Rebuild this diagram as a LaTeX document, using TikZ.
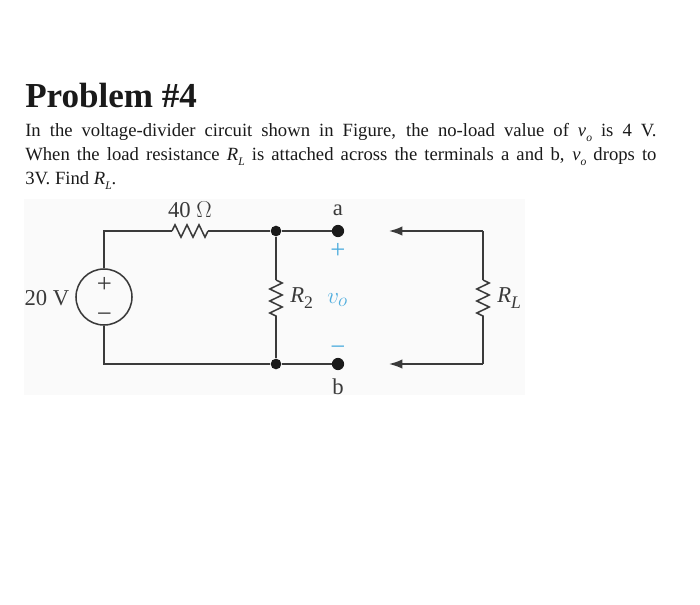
\documentclass[tikz,border=0pt]{standalone}
\usepackage{fontspec}
\setmainfont{Liberation Serif}
\usetikzlibrary{arrows.meta,decorations.pathmorphing}
\definecolor{ink}{HTML}{1A1A1A}
\definecolor{wire}{HTML}{3A3A3A}
\definecolor{panel}{HTML}{FAFAFA}
\definecolor{vblue}{HTML}{4FADDE}
\newcommand{\subit}[1]{\raisebox{-0.32em}{\scalebox{0.62}{\textit{#1}}}}
\newcommand{\subc}[1]{\raisebox{-0.28em}{\scalebox{0.78}{#1}}}
\newcommand{\bodyline}[1]{\makebox[473.5pt][s]{#1}}
\tikzset{
  x=0.75pt,y=-0.75pt,
  line/.style={draw=wire,line width=1.15pt},
  res/.style={line,decorate,decoration={zigzag,segment length=9pt,amplitude=4.6pt}},
  dotbig/.style={circle,fill=ink,inner sep=0pt,minimum size=9.2pt},
  dotsmall/.style={circle,fill=ink,inner sep=0pt,minimum size=8pt},
  lab/.style={inner sep=0pt,text=wire,font=\fontsize{17}{20}\selectfont},
  sign/.style={inner sep=0pt,font=\fontsize{20}{22}\selectfont},
  body/.style={inner sep=0pt,anchor=base west,text=ink,font=\fontsize{14}{16}\selectfont},
  tip/.style={-{Latex[length=10pt,width=7pt]}}
}
\begin{document}
\begin{tikzpicture}
\useasboundingbox (0,0) rectangle (700,604);
\fill[white] (0,0) rectangle (700,604);
\fill[panel] (24,199) rectangle (525,395);
\node[inner sep=0pt,anchor=base west,text=ink,font=\bfseries\fontsize{26.3}{30}\selectfont] (title) at (25,107.5) {Problem \#4};
\node[body] (l1) at (25,136) {\bodyline{In the voltage-divider circuit shown in Figure, the no-load value of \textit{v}\subit{o} is 4 V.}};
\node[body] (l2) at (25,160) {\bodyline{When the load resistance \textit{R}\subit{L} is attached across the terminals a and b, \textit{v}\subit{o} drops to}};
\node[body] (l3) at (25,184) {3V. Find \textit{R}\subit{L}.};

\node[circle,line,minimum size=42pt,inner sep=0pt] (src) at (104,297) {};
\node[sign,text=wire] (plus) at (104.5,285) {+};
\node[sign,text=wire] (minus) at (104.5,318) {\textminus};
\node[lab,anchor=east] (vlab) at (69.5,298) {20 V};
\coordinate (r1a) at (172,231);
\coordinate (r1b) at (208,231);
\node[dotsmall] (n1) at (276,231) {};
\node[dotsmall] (n2) at (276,364) {};
\node[dotbig] (a) at (338,231) {};
\node[dotbig] (b) at (338,364) {};
\coordinate (r2a) at (276,280);
\coordinate (r2b) at (276,317);
\coordinate (t1) at (389,231);
\coordinate (t2) at (389,364);
\coordinate (c1) at (483,231);
\coordinate (c2) at (483,364);
\coordinate (r3a) at (483,280);
\coordinate (r3b) at (483,317);
\draw[line] (src.north) |- (r1a);
\draw[res] (r1a) -- (r1b);
\draw[line] (r1b) -- (n1);
\draw[line] (n1) -- (a);
\draw[line] (src.south) |- (n2);
\draw[line] (n2) -- (b);
\draw[line] (n1) -- (r2a);
\draw[res] (r2a) -- (r2b);
\draw[line] (r2b) -- (n2);
\draw[line,tip] (c1) -- (t1);
\draw[line,tip] (c2) -- (t2);
\draw[line] (c1) -- (r3a);
\draw[res] (r3a) -- (r3b);
\draw[line] (r3b) -- (c2);
\node[lab] (ohm) at (190,210) {40 $\Omega$};
\node[lab] (la) at (338,210) {a};
\node[lab] (lb) at (338,387) {b};
\node[lab,anchor=west] (lr2) at (290,298) {\textit{R}\subc{2}};
\node[lab,anchor=west] (lrl) at (497,298) {\textit{R}\subc{\textit{L}}};
\node[sign,text=vblue] (vp) at (338,251) {+};
\node[sign,text=vblue] (vm) at (338,350.5) {\textminus};
\node[inner sep=0pt,text=vblue,font=\fontsize{19}{22}\selectfont,anchor=west] (vo) at (327,300) {$v_o$};
\end{tikzpicture}
\end{document}
